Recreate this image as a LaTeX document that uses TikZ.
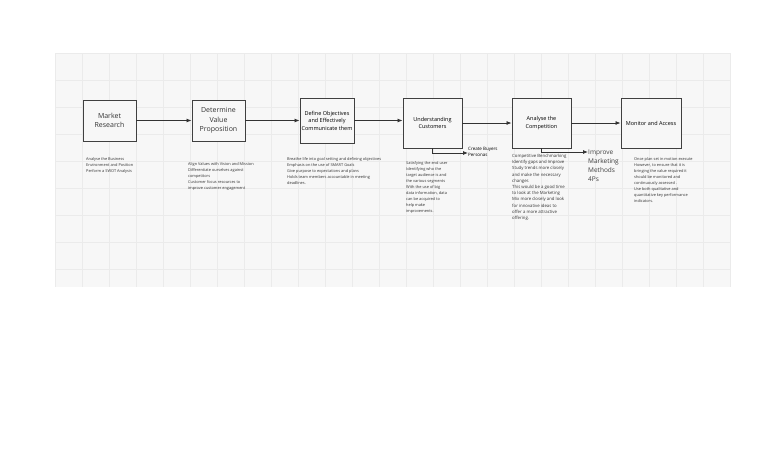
\documentclass[tikz,border=0pt]{standalone}
\usepackage{fontspec}
\setmainfont{Open Sans}
\usetikzlibrary{positioning,arrows.meta}
\tikzset{
  stepbox/.style={draw=black!75,line width=0.9pt,fill=gray!6,align=center,inner sep=1pt,font=\fontsize{5.5}{7.5}\selectfont},
  bigbox/.style={stepbox,font=\fontsize{7}{9.5}\selectfont,text=black!80},
  flow/.style={-{Latex[length=5pt,width=4pt]},line width=0.8pt,black!80},
  note/.style={anchor=north west,align=left,inner sep=0pt,font=\fontsize{3.9}{6}\selectfont,text=black!80},
  gridline/.style={gray!16,line width=0.3pt}
}
\begin{document}
\begin{tikzpicture}[x=1pt,y=-1pt]
    \useasboundingbox (0,0) rectangle (768,466);
    \fill[gray!6] (55,53) rectangle (730,287);
    \foreach \gx in {55,82,...,730} \draw[gridline] (\gx,53) -- (\gx,287);
    \foreach \gy in {53,80,...,287} \draw[gridline] (55,\gy) -- (730,\gy);
    % steps
    \node[bigbox,minimum width=53pt,minimum height=41pt] (market) at (109.5,120.5) {Market\\Research};
    \node[bigbox,minimum width=53pt,minimum height=41pt] (value) at (218.5,120.5) {Determine\\Value\\Proposition};
    \node[stepbox,minimum width=54pt,minimum height=45pt] (objectives) at (327,120.5) {Define Objectives\\and Effectively\\Communicate them};
    \node[stepbox,minimum width=59pt,minimum height=50pt] (customers) at (432.5,123) {Understanding\\Customers};
    \node[stepbox,minimum width=59pt,minimum height=50pt] (competition) at (541.5,123) {Analyse the\\Competition};
    \node[stepbox,minimum width=60pt,minimum height=50pt] (monitor) at (651,123) {Monitor and Access};
    \draw[flow] (market) -- (value);
    \draw[flow] (value) -- (objectives);
    \draw[flow] (objectives.east) -- (customers.west |- objectives.east);
    \draw[flow] (customers) -- (competition);
    \draw[flow] (competition) -- (monitor);
    % branches
    \node[anchor=north west,align=left,inner sep=0pt,font=\fontsize{4.5}{6.5}\selectfont] (personas) at (468,147) {Create Buyers\\Personas};
    \node[anchor=north west,align=left,inner sep=0pt,font=\fontsize{6.5}{9}\selectfont,text=black!75] (marketing) at (588,150) {Improve\\Marketing\\Methods\\4Ps};
    \draw[flow] (customers.south) |- (personas.west |- 0,153);
    \draw[flow] (competition.south) |- (marketing.west |- 0,152);
    % notes
    \node[note] (n1) at (86,157) {Analyse the Business\\Environment and Position\\Perform a SWOT Analysis};
    \node[note] (n2) at (188,162) {Align Values with Vision and Mission\\Differentiate ourselves against\\competitors\\Customer focus resources to\\improve customer engagement};
    \node[note] (n3) at (287,157) {Breathe life into goal setting and defining objectives\\Emphasis on the use of SMART Goals\\Give purpose to expectations and plans\\Holds team members accountable in meeting\\deadlines.};
    \node[note] (n4) at (406,161) {Satisfying the end user\\Identifying who the\\target audience is and\\the various segments\\With the use of big\\data information, data\\can be acquired to\\help make\\improvements.};
    \node[note,font=\fontsize{4.3}{6.2}\selectfont] (n5) at (512,154) {Competitive Benchmarking\\Identify gaps and Improve\\Study trends more closely\\and make the necessary\\changes\\This would be a good time\\to look at the Marketing\\Mix more closely and look\\for innovative ideas to\\offer a more attractive\\offering.};
    \node[note] (n6) at (634,157) {Once plan set in motion execute\\However, to ensure that it is\\bringing the value required it\\should be monitored and\\continuously assessed .\\Use both qualitative and\\quantitative key performance\\indicators.};
\end{tikzpicture}
\end{document}
